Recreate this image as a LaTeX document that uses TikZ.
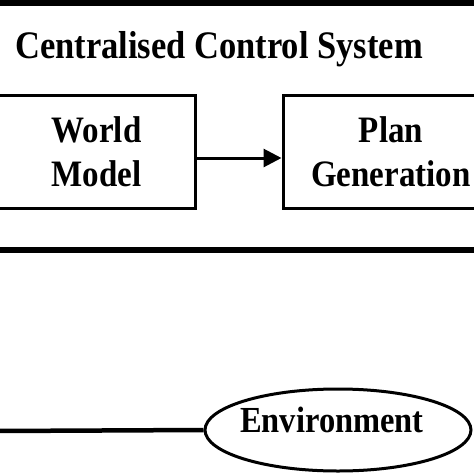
\documentclass[tikz,border=0pt]{standalone}
\usepackage{graphicx}
\usepackage{fontspec}
\setmainfont{Liberation Serif}
\usetikzlibrary{arrows.meta,shapes.geometric}
\newcommand{\vst}[1]{\scalebox{1}[1.13]{#1}}
\tikzset{
  lbl/.style={font=\fontsize{33}{44}\selectfont\bfseries, align=center, inner sep=0pt},
  box/.style={draw, line width=3pt, rectangle, minimum width=197pt, minimum height=113pt, lbl},
  env/.style={draw, line width=3pt, ellipse, minimum width=266pt, minimum height=82pt, inner sep=0pt,
    text height=25pt, text depth=21pt, font=\fontsize{32.5}{40}\selectfont\bfseries},
  conn/.style={line width=3pt, -{Triangle[length=18pt,width=18pt]}},
  rule/.style={line width=6pt},
}
\begin{document}
\begin{tikzpicture}[x=1pt,y=-1pt]
\useasboundingbox (0,0) rectangle (474,474);
\coordinate (tl) at (0,3);
\coordinate (tr) at (480,3);
\coordinate (ml) at (0,250);
\coordinate (mr) at (480,250);
\coordinate (bl) at (-2,431);
\draw[rule] (tl) -- (tr);
\draw[rule] (ml) -- (mr);
\node[inner sep=0pt, font=\fontsize{34.5}{40}\selectfont\bfseries, anchor=base west] (title) at (15,58) {\vst{Centralised Control System}};
\node[box] (wm) at (96.5,151.5) {\vst{World}\\\vst{Model}};
\node[box, minimum width=216pt] (pg) at (391,151.5) {\vst{Plan}\\\vst{Generation}};
\draw[conn] ([yshift=-6.5pt]wm.east) -- ([yshift=-6.5pt]pg.west);
\node[env] (envn) at (338,430) {\makebox[170pt][c]{\vst{Environment}\hspace{12pt}}};
\draw[line width=4.5pt] (bl) -- (envn.west);
\end{tikzpicture}
\end{document}
